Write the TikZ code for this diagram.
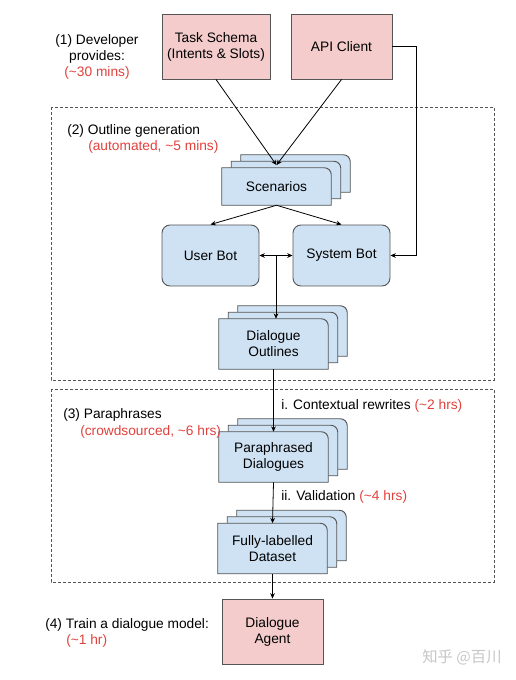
\documentclass[tikz,border=0pt]{standalone}
\usepackage{fontspec}
\setmainfont{Liberation Sans}
\newfontfamily\cjkfont{Noto Sans CJK SC}
\usetikzlibrary{arrows.meta,backgrounds}
\definecolor{pinkfill}{HTML}{F4CCCC}
\definecolor{bluefill}{HTML}{CFE2F3}
\definecolor{edgegray}{HTML}{555555}
\definecolor{timered}{HTML}{E0413C}
\tikzset{
  source/.style={draw=edgegray, fill=pinkfill, line width=0.7pt, minimum width=81pt, minimum height=48.75pt, align=center, inner sep=0pt},
  bot/.style={draw=edgegray, fill=bluefill, line width=0.7pt, rounded corners=6pt, minimum width=72.75pt, minimum height=45.75pt},
  stacked/.style={minimum width=81.75pt, minimum height=37.5pt, align=center, inner sep=0pt},
  sheet/.style={draw=edgegray, fill=bluefill, line width=0.7pt},
  phase/.style={draw=edgegray, dash pattern=on 2.25pt off 1.5pt, line width=0.6pt},
  flow/.style={->, line width=0.6pt},
  note/.style={anchor=west, inner sep=0pt},
}
\begin{document}
\begin{tikzpicture}[x=0.75pt, y=-0.75pt, font=\fontsize{10.3pt}{12pt}\selectfont,
    >={Stealth[length=4pt,width=3.5pt]}]
    \useasboundingbox (0,0) rectangle (515,680);

    % developer inputs
    \node[source] (task) at (216,46.5) {Task Schema\\(Intents \& Slots)};
    \node[source, minimum width=75.75pt] (api) at (341.5,46.5) {API Client};
    \node[align=center, inner sep=0pt] (dev) at (97,57) {(1) Developer\\provides:\\\textcolor{timered}{(\textasciitilde30 mins)}};

    % outline generation
    \draw[phase] (51,107) rectangle (494,380);
    \node[note] (gen) at (67,131) {(2) Outline generation};
    \node[note, text=timered] (gentime) at (88,147) {(automated, \textasciitilde5 mins)};
    \node[stacked, minimum height=27.75pt] (scen) at (276.5,186.5) {Scenarios};
    \node[bot] (user) at (210.5,255.5) {User Bot};
    \node[bot] (sys) at (341.5,255.5) {System Bot};
    \node[stacked] (outl) at (273.5,344) {Dialogue\\Outlines};

    % paraphrases
    \draw[phase] (51,389) rectangle (494,582);
    \node[note] (par) at (63,415) {(3) Paraphrases};
    \node[note, text=timered] (partime) at (80,432) {(crowdsourced, \textasciitilde6 hrs)};
    \node[stacked] (para) at (273.5,457) {Paraphrased\\Dialogues};
    \node[stacked] (full) at (272.5,548.5) {Fully-labelled\\Dataset};

    % training
    \node[source, minimum width=75.75pt] (agent) at (272.5,631.5) {Dialogue\\Agent};
    \node[note] (train) at (45,625) {(4) Train a dialogue model:};
    \node[note, text=timered] (traintime) at (66,641) {(\textasciitilde1 hr)};

    % sheets behind the documents
    \begin{scope}[on background layer]
        \foreach \n in {scen,outl,para,full}
            \foreach \d in {2,1,0}
                \draw[sheet] ([shift={(9.5*\d,-6.5*\d)}]\n.south west) -- ([shift={(9.5*\d,-6.5*\d)}]\n.north west)
                    -- ([shift={(9.5*\d-7,-6.5*\d)}]\n.north east) arc[start angle=90, end angle=0, radius=5.25pt]
                    -- ([shift={(9.5*\d,-6.5*\d)}]\n.south east) -- cycle;
    \end{scope}

    % connectors
    \draw[flow] (task.south) -- ([yshift=2pt]scen.north);
    \draw[flow] (api.south) -- ([yshift=2pt]scen.north);
    \draw[flow] (scen.south) -- (user.north);
    \draw[flow] (scen.south) -- (sys.north);
    \coordinate (apiturn) at (416,46.5);
    \draw[flow] (api.east) -- (apiturn) |- (sys.east);
    \draw[flow, <->] (user.east) -- coordinate[midway] (botmid) (sys.west);
    \draw[flow] (botmid) -- (botmid |- outl.north);
    \draw[flow] (outl.south) -- (para.north);
    \draw[flow] (para.south) -- (full.north);
    \draw[flow] (full.south) -- (agent.north);

    \node[note] (rewrite) at (281,406) {i. Contextual rewrites \textcolor{timered}{(\textasciitilde2 hrs)}};
    \node[note] (valid) at (281,497) {ii. Validation \textcolor{timered}{(\textasciitilde4 hrs)}};

    \node[text=gray!45, font=\cjkfont\fontsize{11.5pt}{12pt}\selectfont] (mark) at (462,657) {知乎 @百川};
\end{tikzpicture}
\end{document}
